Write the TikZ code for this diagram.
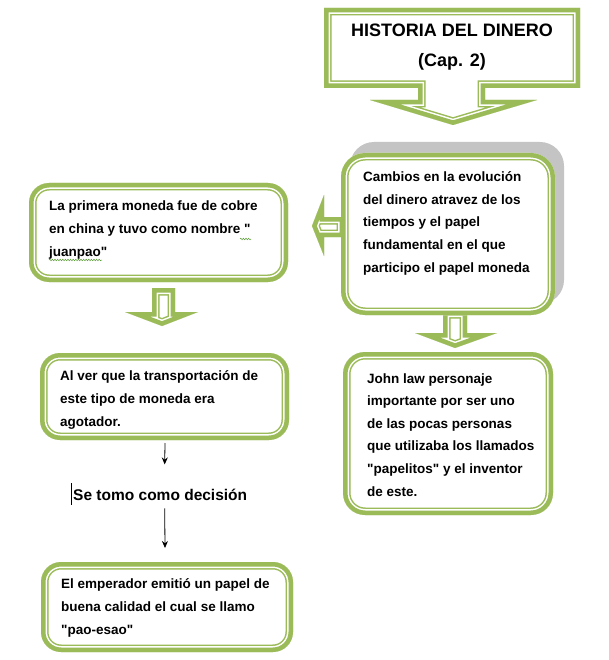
\documentclass[tikz,border=0pt]{standalone}
\usepackage{fontspec}
\setmainfont{Liberation Sans}[Ligatures=TeXOff]
\usetikzlibrary{calc,decorations.pathmorphing,arrows.meta}
\definecolor{gr}{HTML}{9BBB59}
\definecolor{shd}{HTML}{C4C4C4}
\definecolor{squig}{HTML}{5E9E3A}
\newcommand\qq{\symbol{34}}
\newcommand\gshape[2]{%
  \begin{scope}
    \clip[#1] #2;
    \fill[white,#1] #2;
    \draw[gr,line width=15pt,#1] #2;
    \draw[white,line width=12pt,#1] #2;
    \draw[gr,line width=9pt,#1] #2;
  \end{scope}}
\tikzset{
  boxshape/.style={rectangle,inner sep=0pt,outer sep=0pt},
  txt/.style={font=\fontsize{13.5}{22.6}\selectfont\bfseries,align=left,inner sep=0pt,anchor=base west},
  thinarrow/.style={line width=0.8pt,-{Stealth[length=7pt,width=6pt]}},
  wavy/.style={squig,line width=0.5pt,decorate,decoration={snake,amplitude=0.8pt,segment length=2.6pt}}
}
\begin{document}
\begin{tikzpicture}[x=1pt,y=-1pt]
\useasboundingbox (0,0) rectangle (609,660);
\fill[white] (0,0) rectangle (609,660);

% ---------- box placeholders ----------
\node[boxshape,minimum width=256pt,minimum height=80pt] (title) at (452,48) {};
\node[boxshape,minimum width=214pt,minimum height=162pt] (cambios) at (448,234) {};
\node[boxshape,minimum width=210pt,minimum height=163pt] (john) at (448,433.5) {};
\node[boxshape,minimum width=259pt,minimum height=99pt] (primera) at (158.5,232.5) {};
\node[boxshape,minimum width=249pt,minimum height=87pt] (alver) at (164.5,396.5) {};
\node[boxshape,minimum width=252pt,minimum height=90pt] (emperador) at (167,607) {};

% ---------- title callout ----------
\gshape{}{(title.north west) -- (title.north east) -- (title.south east)
  -- ($(title.south)+(33,0)$) -- ($(title.south)+(33,12)$) -- ($(title.south)+(85,12)$)
  -- ($(title.south)+(1,37)$) -- ($(title.south)+(-82,12)$) -- ($(title.south)+(-34,12)$)
  -- ($(title.south)+(-34,0)$) -- (title.south west) -- cycle}
\node[font=\fontsize{18}{30}\selectfont\bfseries,align=center,inner sep=0pt] (titletext) at (452,47)
  {HISTORIA DEL DINERO\\(Cap. 2)};

% ---------- block arrows ----------
% left arrow from cambios
\gshape{}{($(cambios.west)+(-29,-8)$) -- ($(cambios.west)+(-17,-39)$) -- ($(cambios.west)+(-17,-17)$)
  -- ($(cambios.west)+(3,-17)$) -- ($(cambios.west)+(3,3)$) -- ($(cambios.west)+(-17,3)$)
  -- ($(cambios.west)+(-17,22)$) -- cycle}
% down arrow from cambios
\gshape{}{($(cambios.south)+(-5,-4)$) -- ($(cambios.south)+(19,-4)$) -- ($(cambios.south)+(19,18)$)
  -- ($(cambios.south)+(49,18)$) -- ($(cambios.south)+(7,33)$) -- ($(cambios.south)+(-33,18)$)
  -- ($(cambios.south)+(-5,18)$) -- cycle}
% down arrow from primera
\gshape{}{($(primera.south)+(-6.5,6)$) -- ($(primera.south)+(16.5,6)$) -- ($(primera.south)+(16.5,30)$)
  -- ($(primera.south)+(39.5,30)$) -- ($(primera.south)+(3.5,44)$) -- ($(primera.south)+(-33.5,30)$)
  -- ($(primera.south)+(-6.5,30)$) -- cycle}

% ---------- shadow + boxes ----------
\fill[shd,rounded corners=24pt] ($(cambios.south west)+(9,-11)$) rectangle ($(cambios.north east)+(9,-11)$);
\gshape{rounded corners=24pt}{(cambios.south west) rectangle (cambios.north east)}
\gshape{rounded corners=22pt}{(john.south west) rectangle (john.north east)}
\gshape{rounded corners=20pt}{(primera.south west) rectangle (primera.north east)}
\gshape{rounded corners=20pt}{(alver.south west) rectangle (alver.north east)}
\gshape{rounded corners=20pt}{(emperador.south west) rectangle (emperador.north east)}

% ---------- texts (anchor = baseline of last line) ----------
\node[txt] (tcambios) at (363,272) {Cambios en la evolución\\del dinero atravez de los\\tiempos y el papel\\fundamental en el que\\participo el papel moneda};
\node[txt] (tjohn) at (367,496) {John law personaje\\importante por ser uno\\de las pocas personas\\que utilizaba los llamados\\\qq papelitos\qq{} y el inventor\\de este.};
\node[txt] (tprimera) at (49,256) {La primera moneda fue de cobre\\en china y tuvo como nombre \qq\\juanpao\qq};
\node[txt] (talver) at (60,426) {Al ver que la transportación de\\este tipo de moneda era\\agotador.};
\node[txt] (temperador) at (61,634) {El emperador emitió un papel de\\buena calidad el cual se llamo\\\qq pao-esao\qq};
\node[font=\fontsize{15.5}{18}\selectfont\bfseries,inner sep=0pt,anchor=base west] (decision) at (73,500) {Se tomo como decisión};

% spell-check squiggles and text cursor
\draw[wavy] (49,260) -- (102,260);
\draw[wavy] (240,239) -- (251,239);
\draw[line width=0.9pt] ($(decision.west)+(-1.5,-11)$) -- ($(decision.west)+(-1.5,11)$);

% ---------- thin arrows ----------
\coordinate (a1) at ($(alver.south)+(0.5,3)$);
\coordinate (a2) at ($(decision.north)+(4.5,-24)$);
\draw[thinarrow] (a1) -- (a2);
\coordinate (b1) at ($(decision.south)+(4.5,8)$);
\coordinate (b2) at ($(emperador.north)+(-2,-14)$);
\draw[thinarrow] (b1) -- (b2);
\end{tikzpicture}
\end{document}
